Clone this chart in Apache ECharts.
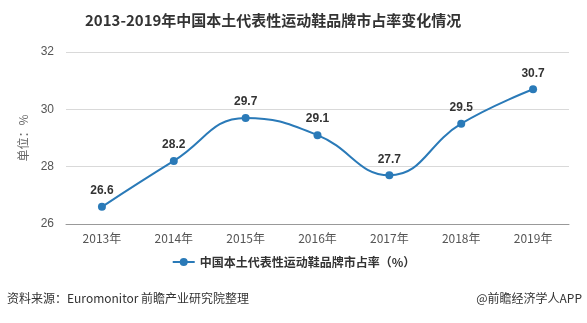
<!DOCTYPE html>
<html><head><meta charset="utf-8">
<script src="https://cdn.jsdelivr.net/npm/echarts@6/dist/echarts.min.js"></script>
<style>html,body{margin:0;padding:0;background:#fff}#c{width:587px;height:323px}</style>
</head><body><div id="c"></div>
<script>
var categories = ['2013年','2014年','2015年','2016年','2017年','2018年','2019年'];
var values = [26.6, 28.2, 29.7, 29.1, 27.7, 29.5, 30.7];
var seriesName = '中国本土代表性运动鞋品牌市占率（%）';
var chart = echarts.init(document.getElementById('c'));
var font = '"Microsoft YaHei","Noto Sans CJK SC",sans-serif';
chart.setOption({
  animation: false,
  title: {
    text: '2013-2019年中国本土代表性运动鞋品牌市占率变化情况',
    left: 80, top: 8,
    textStyle: {fontSize: 15, fontWeight: 'bold', color: '#333', fontFamily: font}
  },
  graphic: [
    {type: 'text', left: 7, top: 292, style: {text: '资料来源：Euromonitor 前瞻产业研究院整理', fontSize: 12, fill: '#333', fontFamily: font}},
    {type: 'text', right: 5, top: 292, style: {text: '@前瞻经济学人APP', fontSize: 12, fill: '#333', fontFamily: font}}
  ],
  legend: {
    bottom: 50, left: 'center',
    itemWidth: 22, itemHeight: 10,
    textStyle: {fontSize: 12, color: '#333', fontWeight: 'bold', fontFamily: font},
    data: [seriesName]
  },
  grid: {left: 66, right: 18, top: 52, bottom: 99},
  xAxis: {
    type: 'category', data: categories,
    axisLine: {lineStyle: {color: '#999'}},
    axisTick: {alignWithLabel: true, lineStyle: {color: '#999'}},
    axisLabel: {color: '#555', fontSize: 12, margin: 8, fontFamily: font}
  },
  yAxis: {
    type: 'value', min: 26, max: 32, interval: 2,
    name: '单位：%', nameLocation: 'middle', nameGap: 35, nameRotate: 90,
    nameTextStyle: {color: '#666', fontSize: 12, fontFamily: font},
    axisLine: {show: false}, axisTick: {show: false},
    axisLabel: {color: '#555', fontSize: 12, margin: 12},
    splitLine: {lineStyle: {color: '#d9d9d9'}}
  },
  series: [{
    name: seriesName, type: 'line', data: values, smooth: 0.45,
    symbol: 'circle', symbolSize: 8,
    lineStyle: {color: '#2a7ab8', width: 2},
    itemStyle: {color: '#2a7ab8'},
    label: {show: true, position: 'top', distance: 6, fontWeight: 'bold', fontSize: 12, color: '#333', formatter: function(p){return p.value.toFixed(1);}}
  }]
});
</script></body></html>
